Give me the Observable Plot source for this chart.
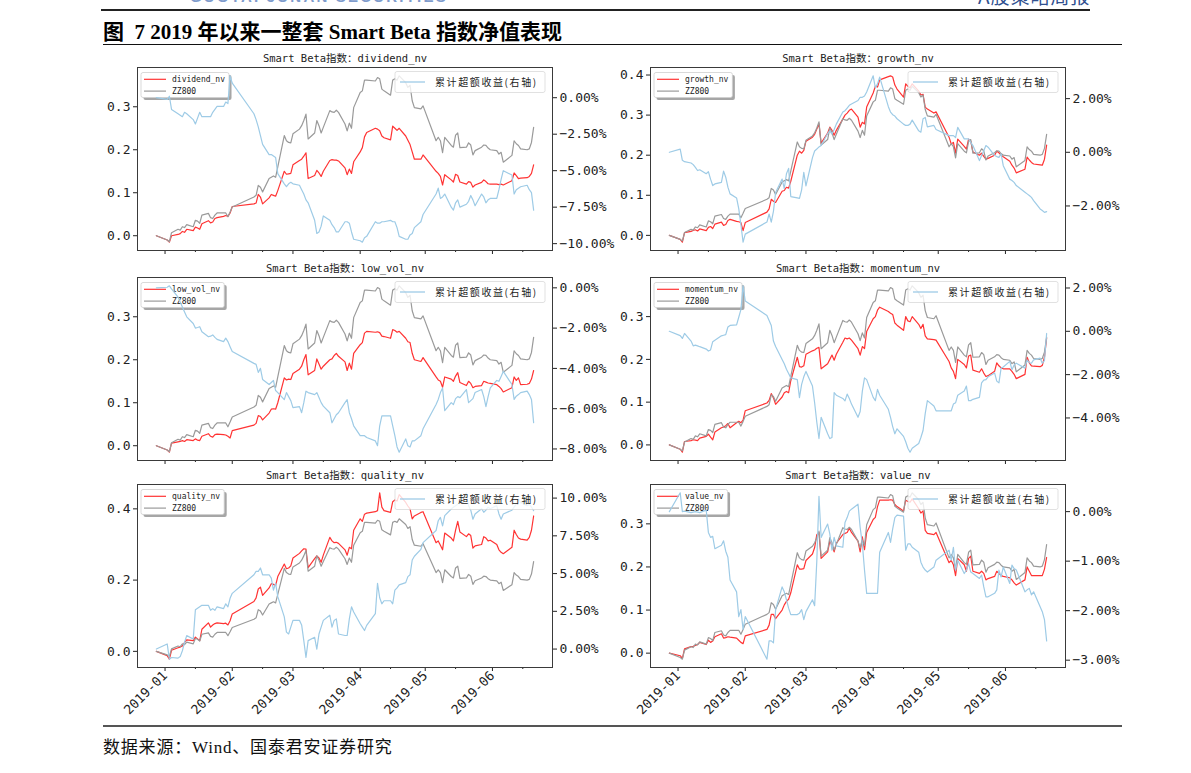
<!DOCTYPE html>
<html>
<head>
<meta charset="utf-8">
<script src="https://cdn.jsdelivr.net/npm/d3@7"></script>
<script src="https://cdn.jsdelivr.net/npm/@observablehq/plot@0.6"></script>
<style>
  html, body { margin: 0; padding: 0; background: #fff; }
  #page { position: relative; width: 1191px; height: 773px; overflow: hidden; background: #fff; }
  .abs { position: absolute; white-space: pre; }
  .logo { left: 190px; top: -12px; font: bold 15px "Liberation Sans", sans-serif; letter-spacing: 2.2px; color: #7f9ccc; }
  .rpt { left: 978px; top: -18px; font: 19px "Noto Sans CJK SC", sans-serif; color: #2f4f8f; letter-spacing: 1px; }
  .rule { position: absolute; }
  .title { left: 103px; top: 15px; font: bold 21px "Liberation Serif", "Noto Sans CJK SC", serif; color: #000; }
  .source { left: 103px; top: 733px; font: 17px "Liberation Serif", "Noto Sans CJK SC", serif; letter-spacing: 0.8px; color: #111; }
  .panel { position: absolute; }
  .panel svg { position: absolute; left: 0; top: 0; overflow: visible; background: none !important; }
</style>
</head>
<body>
<div id="page">
  <div class="abs logo">GUOTAI JUNAN SECURITIES</div>
  <div class="abs rpt">A股策略周报</div>
  <div class="rule" style="left:101px;top:9px;width:989px;height:2px;background:#222"></div>
  <div class="abs title">图  7 2019 年以来一整套 Smart Beta 指数净值表现</div>
  <div class="rule" style="left:103px;top:44px;width:1019px;height:1px;background:#111"></div>
  <div class="rule" style="left:103px;top:725px;width:1019px;height:2px;background:#555"></div>
  <div class="abs source">数据来源：Wind、国泰君安证券研究</div>
</div>
<script>
// Trading days, 2018-12-28 to 2019-06-20
const dates = [
  "2018-12-28",
  "2019-01-02","2019-01-03","2019-01-04","2019-01-07","2019-01-08","2019-01-09","2019-01-10","2019-01-11",
  "2019-01-14","2019-01-15","2019-01-16","2019-01-17","2019-01-18","2019-01-21","2019-01-22","2019-01-23",
  "2019-01-24","2019-01-25","2019-01-28","2019-01-29","2019-01-30","2019-01-31","2019-02-01",
  "2019-02-11","2019-02-12","2019-02-13","2019-02-14","2019-02-15","2019-02-18","2019-02-19","2019-02-20",
  "2019-02-21","2019-02-22","2019-02-25","2019-02-26","2019-02-27","2019-02-28",
  "2019-03-01","2019-03-04","2019-03-05","2019-03-06","2019-03-07","2019-03-08","2019-03-11","2019-03-12",
  "2019-03-13","2019-03-14","2019-03-15","2019-03-18","2019-03-19","2019-03-20","2019-03-21","2019-03-22",
  "2019-03-25","2019-03-26","2019-03-27","2019-03-28","2019-03-29",
  "2019-04-01","2019-04-02","2019-04-03","2019-04-04","2019-04-08","2019-04-09","2019-04-10","2019-04-11",
  "2019-04-12","2019-04-15","2019-04-16","2019-04-17","2019-04-18","2019-04-19","2019-04-22","2019-04-23",
  "2019-04-24","2019-04-25","2019-04-26","2019-04-29","2019-04-30",
  "2019-05-06","2019-05-07","2019-05-08","2019-05-09","2019-05-10","2019-05-13","2019-05-14","2019-05-15",
  "2019-05-16","2019-05-17","2019-05-20","2019-05-21","2019-05-22","2019-05-23","2019-05-24","2019-05-27",
  "2019-05-28","2019-05-29","2019-05-30","2019-05-31",
  "2019-06-03","2019-06-04","2019-06-05","2019-06-06","2019-06-10","2019-06-11","2019-06-12","2019-06-13",
  "2019-06-14","2019-06-17","2019-06-18","2019-06-19","2019-06-20"
];

// Benchmark cumulative return (中证800)
const zz800 = [
  0.000,-0.010,-0.014,0.007,0.015,0.013,0.021,0.019,0.026,0.021,
  0.036,0.034,0.029,0.048,0.052,0.042,0.040,0.048,0.053,0.053,
  0.053,0.044,0.055,0.067,0.090,0.094,0.117,0.113,0.102,0.133,
  0.136,0.139,0.136,0.160,0.233,0.221,0.217,0.216,0.237,0.248,
  0.256,0.268,0.283,0.225,0.239,0.268,0.256,0.239,0.252,0.291,
  0.288,0.287,0.292,0.287,0.260,0.244,0.262,0.250,0.298,0.333,
  0.337,0.362,0.362,0.360,0.368,0.365,0.341,0.337,0.327,0.362,
  0.365,0.362,0.372,0.356,0.345,0.350,0.314,0.298,0.295,0.302,
  0.221,0.229,0.221,0.193,0.229,0.210,0.206,0.234,0.239,0.205,
  0.206,0.216,0.211,0.188,0.198,0.206,0.211,0.210,0.204,0.200,
  0.198,0.190,0.194,0.171,0.187,0.221,0.214,0.210,0.202,0.200,
  0.202,0.217,0.252
];

// Strategy net values (cumulative return)
const dividendNv = [
  0.000,-0.010,-0.015,0.000,0.003,0.005,0.010,0.008,0.015,0.012,
  0.020,0.018,0.015,0.028,0.035,0.030,0.032,0.040,0.042,0.045,
  0.047,0.045,0.053,0.068,0.074,0.076,0.096,0.090,0.074,0.088,
  0.096,0.094,0.092,0.105,0.150,0.143,0.144,0.145,0.165,0.175,
  0.178,0.185,0.193,0.133,0.140,0.152,0.146,0.138,0.150,0.175,
  0.177,0.176,0.176,0.174,0.158,0.142,0.155,0.145,0.172,0.195,
  0.205,0.230,0.240,0.250,0.248,0.244,0.232,0.228,0.223,0.255,
  0.250,0.245,0.250,0.232,0.222,0.212,0.195,0.178,0.178,0.188,
  0.150,0.145,0.138,0.118,0.142,0.130,0.125,0.143,0.140,0.125,
  0.120,0.126,0.124,0.113,0.118,0.124,0.130,0.126,0.121,0.120,
  0.120,0.119,0.120,0.118,0.128,0.146,0.140,0.133,0.134,0.135,
  0.138,0.145,0.165
];
const growthNv = [
  0.000,-0.010,-0.017,0.007,0.010,0.012,0.014,0.011,0.016,0.012,
  0.020,0.022,0.017,0.028,0.033,0.025,0.027,0.037,0.040,0.035,
  0.034,0.032,0.012,0.032,0.058,0.066,0.090,0.085,0.082,0.110,
  0.112,0.120,0.118,0.135,0.200,0.210,0.205,0.212,0.235,0.245,
  0.252,0.265,0.278,0.230,0.255,0.270,0.262,0.250,0.262,0.290,
  0.300,0.305,0.312,0.315,0.295,0.270,0.282,0.278,0.320,0.355,
  0.372,0.370,0.388,0.396,0.398,0.395,0.375,0.365,0.345,0.378,
  0.372,0.368,0.378,0.360,0.350,0.352,0.320,0.315,0.305,0.308,
  0.245,0.228,0.232,0.205,0.240,0.222,0.215,0.240,0.235,0.208,
  0.200,0.205,0.197,0.190,0.192,0.200,0.210,0.206,0.200,0.196,
  0.185,0.175,0.168,0.156,0.165,0.195,0.188,0.182,0.178,0.176,
  0.175,0.190,0.225
];
const lowVolNv = [
  0.000,-0.010,-0.015,0.006,0.009,0.010,0.012,0.010,0.014,0.012,
  0.016,0.013,0.012,0.022,0.028,0.022,0.020,0.026,0.027,0.026,
  0.025,0.022,0.018,0.035,0.048,0.052,0.070,0.068,0.060,0.076,
  0.085,0.086,0.085,0.100,0.158,0.153,0.155,0.154,0.168,0.178,
  0.185,0.200,0.212,0.165,0.175,0.202,0.190,0.178,0.185,0.200,
  0.202,0.210,0.215,0.208,0.195,0.175,0.192,0.178,0.215,0.235,
  0.240,0.262,0.266,0.264,0.265,0.263,0.255,0.254,0.250,0.270,
  0.268,0.264,0.266,0.250,0.242,0.240,0.215,0.200,0.196,0.205,
  0.160,0.153,0.150,0.136,0.160,0.155,0.150,0.162,0.170,0.147,
  0.140,0.150,0.145,0.135,0.138,0.140,0.150,0.148,0.146,0.145,
  0.142,0.138,0.133,0.125,0.135,0.160,0.152,0.158,0.142,0.143,
  0.145,0.155,0.175
];
const momentumNv = [
  0.000,-0.010,-0.017,0.008,0.010,0.012,0.011,0.010,0.016,0.020,
  0.025,0.018,0.012,0.030,0.040,0.042,0.045,0.050,0.040,0.052,
  0.055,0.052,0.058,0.080,0.098,0.104,0.120,0.110,0.095,0.112,
  0.122,0.125,0.122,0.150,0.205,0.183,0.182,0.185,0.212,0.220,
  0.222,0.226,0.228,0.178,0.190,0.200,0.210,0.198,0.212,0.240,
  0.250,0.248,0.250,0.245,0.225,0.210,0.230,0.225,0.265,0.295,
  0.300,0.315,0.322,0.312,0.308,0.305,0.285,0.280,0.268,0.300,
  0.290,0.288,0.300,0.282,0.272,0.282,0.255,0.248,0.246,0.245,
  0.195,0.180,0.172,0.155,0.200,0.188,0.180,0.208,0.210,0.175,
  0.170,0.178,0.168,0.160,0.162,0.172,0.192,0.185,0.180,0.178,
  0.178,0.172,0.165,0.155,0.165,0.205,0.192,0.185,0.184,0.183,
  0.186,0.205,0.250
];
const qualityNv = [
  0.000,-0.012,-0.022,0.003,0.010,0.012,0.015,0.025,0.032,0.030,
  0.040,0.035,0.030,0.062,0.080,0.068,0.074,0.078,0.080,0.078,
  0.079,0.074,0.086,0.105,0.140,0.150,0.175,0.180,0.157,0.178,
  0.190,0.188,0.185,0.210,0.245,0.232,0.234,0.240,0.262,0.275,
  0.282,0.288,0.287,0.235,0.260,0.268,0.262,0.250,0.270,0.320,
  0.310,0.305,0.306,0.303,0.285,0.270,0.292,0.288,0.340,0.372,
  0.365,0.385,0.388,0.392,0.395,0.445,0.405,0.395,0.390,0.420,
  0.425,0.422,0.440,0.418,0.408,0.400,0.372,0.380,0.390,0.392,
  0.305,0.310,0.298,0.285,0.332,0.318,0.310,0.340,0.365,0.335,
  0.322,0.330,0.325,0.290,0.296,0.300,0.322,0.318,0.310,0.312,
  0.300,0.285,0.278,0.274,0.292,0.340,0.328,0.318,0.315,0.312,
  0.320,0.340,0.380
];
const valueNv = [
  0.000,-0.006,-0.012,0.010,0.015,0.016,0.018,0.020,0.025,0.020,
  0.030,0.025,0.028,0.038,0.045,0.035,0.036,0.038,0.037,0.035,
  0.030,0.025,0.022,0.040,0.055,0.065,0.090,0.090,0.080,0.100,
  0.112,0.120,0.125,0.140,0.205,0.195,0.195,0.196,0.215,0.230,
  0.245,0.275,0.280,0.220,0.235,0.260,0.250,0.235,0.255,0.275,
  0.278,0.280,0.290,0.280,0.260,0.235,0.270,0.240,0.280,0.310,
  0.315,0.340,0.355,0.355,0.356,0.355,0.345,0.340,0.330,0.355,
  0.352,0.350,0.358,0.335,0.325,0.330,0.285,0.278,0.275,0.280,
  0.210,0.215,0.205,0.180,0.220,0.205,0.190,0.220,0.225,0.190,
  0.185,0.190,0.185,0.170,0.173,0.178,0.190,0.185,0.180,0.178,
  0.175,0.170,0.163,0.158,0.170,0.200,0.190,0.180,0.180,0.180,
  0.180,0.195,0.222
];

// Cumulative excess return vs benchmark, in percent (right axis)
const dividendExcess = [
  0.00,-0.11,0.10,-0.80,-1.10,-1.20,-1.30,-1.00,-1.10,-1.50,
  -1.80,-1.40,-1.00,-1.30,-1.30,-1.30,-1.00,-0.80,-0.60,-0.60,
  -0.30,-0.40,1.50,1.00,-1.10,-1.50,-2.00,-2.60,-3.20,-3.90,
  -3.90,-4.00,-4.10,-5.20,-5.90,-6.10,-5.90,-5.80,-5.90,-6.00,
  -6.30,-6.60,-7.00,-7.20,-8.40,-9.30,-9.20,-8.80,-8.10,-8.40,
  -8.70,-8.90,-9.20,-9.20,-8.50,-8.50,-8.60,-9.20,-9.70,-9.80,
  -9.90,-9.60,-9.50,-8.50,-8.60,-8.60,-8.50,-8.50,-8.40,-8.50,
  -8.50,-8.90,-9.50,-9.70,-9.70,-9.40,-9.30,-8.90,-8.50,-8.00,
  -6.60,-6.20,-6.90,-6.80,-6.60,-7.50,-7.70,-7.20,-7.00,-7.50,
  -7.30,-7.10,-6.70,-7.00,-7.40,-6.60,-6.80,-7.20,-7.00,-6.90,
  -6.90,-6.30,-5.60,-5.00,-5.30,-6.60,-6.30,-6.20,-6.10,-6.00,
  -6.30,-6.50,-7.70
];
const growthExcess = [
  0.00,0.12,-0.30,-0.35,-0.40,-0.46,-0.56,-0.68,-0.65,-0.80,
  -0.72,-1.00,-1.24,-1.18,-1.12,-0.70,-0.93,-1.30,-1.55,-1.70,
  -2.10,-2.70,-3.35,-3.05,-2.60,-2.30,-2.60,-2.20,-1.50,-1.00,
  -1.35,-0.80,-0.60,-1.65,-1.70,-1.72,-1.40,-0.75,-1.25,-0.20,
  0.05,0.12,0.20,0.25,0.70,0.80,0.68,0.85,1.05,1.50,
  1.55,1.65,1.75,1.80,1.93,2.05,2.05,2.10,2.25,2.85,
  2.40,2.55,2.80,1.70,1.50,1.40,1.35,1.25,1.05,1.00,
  1.00,1.05,1.20,0.80,0.75,1.25,1.30,0.95,1.00,0.85,
  0.62,0.62,0.62,0.55,0.93,0.50,0.50,0.50,0.37,0.25,
  -0.31,-0.12,0.06,0.25,0.19,-0.12,-0.16,-0.19,-0.06,-0.50,
  -1.00,-1.05,-1.12,-1.24,-1.49,-1.55,-1.61,-1.68,-1.80,-2.11,
  -2.17,-2.24,-2.21
];
const lowVolExcess = [
  0.00,0.03,0.10,-0.05,-0.46,-0.70,-0.95,-1.20,-1.44,-1.77,
  -2.00,-1.97,-1.93,-2.18,-2.43,-2.40,-2.34,-2.46,-2.56,-2.67,
  -2.50,-2.67,-2.92,-3.16,-3.75,-3.80,-4.20,-4.00,-4.55,-4.80,
  -4.70,-4.60,-5.10,-5.20,-5.55,-5.20,-5.40,-5.60,-5.95,-5.90,
  -6.20,-5.70,-5.13,-5.20,-5.30,-5.20,-5.45,-5.70,-5.87,-6.20,
  -6.70,-6.50,-6.30,-6.20,-5.70,-5.55,-6.20,-6.50,-6.85,-7.34,
  -7.34,-7.34,-7.43,-7.60,-7.84,-6.85,-6.36,-6.36,-6.36,-6.85,
  -7.34,-7.90,-8.16,-7.50,-7.84,-7.90,-7.60,-7.60,-7.34,-7.00,
  -5.79,-5.54,-5.20,-4.97,-6.10,-5.70,-5.80,-5.50,-5.40,-5.45,
  -5.05,-5.70,-5.60,-5.50,-5.20,-5.05,-5.40,-5.90,-5.40,-4.97,
  -4.60,-4.64,-4.40,-4.15,-4.80,-5.54,-5.38,-5.30,-5.20,-5.13,
  -5.30,-5.54,-6.69
];
const momentumExcess = [
  0.00,-0.20,-0.33,-0.10,-0.45,-0.67,-0.64,-0.67,-0.71,-0.82,
  -0.91,-0.86,-0.48,-0.41,-0.21,-0.18,-0.15,0.20,0.27,0.30,
  0.65,1.00,2.10,1.40,0.73,0.50,0.27,-0.45,-0.70,-1.30,
  -1.50,-1.75,-1.95,-2.15,-2.23,-3.06,-2.45,-2.10,-1.85,-2.53,
  -3.30,-4.20,-4.95,-3.97,-4.73,-4.95,-4.90,-2.83,-2.95,-3.10,
  -3.21,-2.90,-3.10,-3.36,-3.97,-3.70,-2.76,-2.15,-2.23,-3.05,
  -3.20,-2.68,-2.95,-3.60,-3.97,-4.40,-4.73,-4.50,-4.85,-5.10,
  -5.40,-5.58,-5.40,-5.18,-4.90,-4.58,-3.80,-3.20,-3.45,-3.67,
  -3.67,-3.67,-3.36,-3.30,-2.95,-2.76,-2.53,-3.20,-3.20,-3.14,
  -3.05,-2.38,-2.25,-2.23,-2.10,-1.92,-2.30,-2.38,-1.70,-1.65,
  -1.39,-1.77,-1.55,-1.47,-1.70,-1.32,-1.45,-1.47,-1.32,-1.24,
  -1.47,-1.35,-0.10
];
const qualityExcess = [
  0.00,0.34,-0.67,-0.56,-0.60,-0.50,-0.11,0.45,0.89,0.67,
  2.60,2.70,2.80,2.90,2.90,2.57,2.68,2.57,2.80,2.68,
  3.00,2.80,3.36,3.69,4.92,5.15,5.15,5.37,4.92,4.92,
  4.70,3.90,4.36,3.47,2.13,1.12,1.00,1.45,1.90,1.90,
  1.60,0.56,-0.56,0.56,0.78,0.00,1.00,1.45,1.90,2.24,
  1.45,1.90,2.00,1.00,0.90,0.90,2.00,2.80,2.46,1.68,
  1.45,1.23,1.57,2.35,4.36,3.40,3.00,3.20,3.20,3.00,
  3.90,4.05,4.25,4.40,4.80,4.92,5.90,6.15,6.60,7.05,
  7.85,8.50,8.72,8.16,8.84,9.28,9.40,9.50,9.60,9.73,
  10.35,9.50,9.20,8.60,8.95,9.30,9.06,9.20,9.40,9.30,
  9.50,8.95,8.60,8.95,9.20,9.40,9.60,9.95,9.70,9.50,
  9.60,9.40,9.17
];
const valueExcess = [
  0.00,0.38,0.00,0.01,-0.02,-0.01,0.00,-0.01,-0.02,0.03,
  -0.42,-0.52,-0.50,-0.75,-0.68,-0.59,-0.80,-0.92,-1.38,-1.62,
  -2.12,-1.98,-2.38,-2.12,-2.98,-2.61,-2.61,-2.65,-1.98,-1.52,
  -1.62,-1.78,-1.95,-2.08,-2.08,-2.05,-1.98,-2.18,-2.02,-1.78,
  -1.90,-1.00,0.31,-0.52,-0.25,-0.45,-0.78,-0.52,-0.69,-0.72,
  -0.22,-0.12,0.01,0.05,0.15,-0.32,-0.65,-1.18,-1.65,-1.65,
  -1.65,-1.65,-0.82,-0.42,-0.62,-0.35,-0.12,-0.07,-0.09,-0.78,
  -0.65,-0.65,-0.72,-0.82,-1.02,-1.12,-1.18,-1.22,-1.12,-0.98,
  -0.78,-0.98,-0.72,-1.18,-0.98,-1.25,-1.18,-1.05,-1.22,-1.25,
  -1.35,-1.28,-1.52,-1.72,-1.72,-1.65,-1.58,-1.18,-1.32,-1.12,
  -1.45,-1.08,-1.15,-1.18,-1.62,-1.58,-1.55,-1.68,-1.62,-1.92,
  -2.02,-2.18,-2.61
];

// Axis ticks
const monthTicks = ["2019-01-01","2019-02-01","2019-03-01","2019-04-01","2019-05-01","2019-06-01"];
const midMonthTicks = ["2019-01-15","2019-02-15","2019-03-15","2019-04-15","2019-05-15","2019-06-15"];
const dividendLeftTicks = [0, 0.1, 0.2, 0.3];
const dividendRightTicks = [0, -2.5, -5, -7.5, -10];
const growthLeftTicks = [0, 0.1, 0.2, 0.3, 0.4];
const growthRightTicks = [2, 0, -2];
const lowVolLeftTicks = [0, 0.1, 0.2, 0.3];
const lowVolRightTicks = [0, -2, -4, -6, -8];
const momentumLeftTicks = [0, 0.1, 0.2, 0.3];
const momentumRightTicks = [2, 0, -2, -4];
const qualityLeftTicks = [0, 0.2, 0.4];
const qualityRightTicks = [0, 2.5, 5, 7.5, 10];
const valueLeftTicks = [0, 0.1, 0.2, 0.3];
const valueRightTicks = [0, -1, -2, -3];

const benchLabel = "ZZ800";
const excessLabel = "累计超额收益(右轴)";
const titlePrefix = "Smart Beta指数：";

const panels = [
  {name: "dividend_nv", nv: dividendNv, ex: dividendExcess, lt: dividendLeftTicks, rt: dividendRightTicks, col: 0, row: 0},
  {name: "growth_nv", nv: growthNv, ex: growthExcess, lt: growthLeftTicks, rt: growthRightTicks, col: 1, row: 0},
  {name: "low_vol_nv", nv: lowVolNv, ex: lowVolExcess, lt: lowVolLeftTicks, rt: lowVolRightTicks, col: 0, row: 1},
  {name: "momentum_nv", nv: momentumNv, ex: momentumExcess, lt: momentumLeftTicks, rt: momentumRightTicks, col: 1, row: 1},
  {name: "quality_nv", nv: qualityNv, ex: qualityExcess, lt: qualityLeftTicks, rt: qualityRightTicks, col: 0, row: 2},
  {name: "value_nv", nv: valueNv, ex: valueExcess, lt: valueLeftTicks, rt: valueRightTicks, col: 1, row: 2}
];

// Styling and layout
const RED = "#ff3333", GRAY = "#9a9a9a", BLUE = "#9ecbe6", INK = "#222";
const MONO = '"DejaVu Sans Mono", "Noto Sans CJK SC", monospace';
const CJK = '"Noto Sans CJK SC", sans-serif';
const colLeft = [137, 650], rowTop = [66.5, 276.5, 483.5];
const FW = 415, FH = 183, ML = 50, MR = 75, MT = 26;

const parse = d3.utcParse("%Y-%m-%d");
const D = dates.map(parse);
const pad = ([a, b], f = 0.05) => { const s = (b - a) * f; return [a - s, b + s]; };
const xDomain = pad(d3.extent(D, d => +d)).map(t => new Date(t));
const majorX = monthTicks.map(parse), minorX = midMonthTicks.map(parse);
const fmtLeft = v => v.toFixed(1);
const fmtRight = v => (v < 0 ? "\u2212" : "") + Math.abs(v).toFixed(2) + "%";

function leftLegend(label) {
  return (index, scales, values, dim) => {
    const x0 = dim.marginLeft + 4, y0 = dim.marginTop + 5.5;
    const w = 35 + label.length * 4.82, h = 25;
    const g = d3.create("svg:g").attr("text-anchor", "start");
    g.append("rect").attr("x", x0 + 2.5).attr("y", y0 + 2.5).attr("width", w).attr("height", h)
      .attr("rx", 2).attr("fill", "#4d4d4d").attr("fill-opacity", 0.5);
    g.append("rect").attr("x", x0).attr("y", y0).attr("width", w).attr("height", h)
      .attr("rx", 2).attr("fill", "#fff").attr("stroke", "#cfcfcf").attr("stroke-width", 0.8);
    [[label, RED, 6.8], [benchLabel, GRAY, 18.6]].forEach(([t, c, dy]) => {
      g.append("line").attr("x1", x0 + 3).attr("x2", x0 + 25).attr("y1", y0 + dy).attr("y2", y0 + dy)
        .attr("stroke", c).attr("stroke-width", 1.2);
      g.append("text").attr("x", x0 + 31).attr("y", y0 + dy).attr("dy", "0.35em")
        .attr("text-anchor", "start")
        .attr("font-family", MONO).attr("font-size", 8).attr("fill", INK).text(t);
    });
    return g.node();
  };
}

function rightLegend() {
  return (index, scales, values, dim) => {
    const w = 150, h = 21;
    const x0 = dim.width - dim.marginRight - 7 - w, y0 = dim.marginTop + 4.5;
    const g = d3.create("svg:g").attr("text-anchor", "start");
    g.append("rect").attr("x", x0).attr("y", y0).attr("width", w).attr("height", h)
      .attr("rx", 2).attr("fill", "#fff").attr("fill-opacity", 0.8)
      .attr("stroke", "#cfcfcf").attr("stroke-opacity", 0.8).attr("stroke-width", 0.8);
    g.append("line").attr("x1", x0 + 5).attr("x2", x0 + 30).attr("y1", y0 + h / 2).attr("y2", y0 + h / 2)
      .attr("stroke", BLUE).attr("stroke-width", 1.3);
    g.append("text").attr("x", x0 + 40).attr("y", y0 + h / 2).attr("dy", "0.36em")
      .attr("text-anchor", "start")
      .attr("font-family", CJK).attr("font-size", 10).attr("letter-spacing", 1.6)
      .attr("fill", INK).text(excessLabel);
    return g.node();
  };
}

const page = document.getElementById("page");

panels.forEach(p => {
  const bottomRow = p.row === 2;
  const MB = bottomRow ? 62 : 14;
  const rows = D.map((d, i) => ({date: d, nv: p.nv[i], zz: zz800[i], ex: p.ex[i]}));
  const leftDomain = pad(d3.extent(rows.flatMap(r => [r.nv, r.zz])));
  const rightDomain = pad(d3.extent(rows, r => r.ex));
  const common = {
    width: ML + FW + MR, height: MT + FH + MB,
    marginLeft: ML, marginRight: MR, marginTop: MT, marginBottom: MB,
    style: {background: "none", fontFamily: MONO, fontSize: "13px", color: INK, overflow: "visible"}
  };

  // Net value layer (left axis)
  const left = Plot.plot({
    ...common,
    x: {type: "utc", domain: xDomain, axis: null},
    y: {domain: leftDomain},
    marks: [
      Plot.line(rows, {x: "date", y: "nv", stroke: RED, strokeWidth: 1.2}),
      Plot.line(rows, {x: "date", y: "zz", stroke: GRAY, strokeWidth: 1.2}),
      Plot.axisY(p.lt, {anchor: "left", tickSize: 4, tickPadding: 3, tickFormat: fmtLeft, label: null}),
      Plot.text([titlePrefix + p.name], {frameAnchor: "top", dy: -6, lineAnchor: "bottom",
        fontSize: 10.5, fill: INK}),
      leftLegend(p.name)
    ]
  });

  // Excess return layer (right axis)
  const right = Plot.plot({
    ...common,
    x: {type: "utc", domain: xDomain},
    y: {domain: rightDomain},
    marks: [
      Plot.line(rows, {x: "date", y: "ex", stroke: BLUE, strokeWidth: 1.2}),
      Plot.axisY(p.rt, {anchor: "right", tickSize: 4, tickPadding: 3, tickFormat: fmtRight, label: null}),
      Plot.axisX(minorX, {anchor: "bottom", tickSize: 2, tickFormat: () => "", label: null}),
      bottomRow
        ? Plot.axisX(majorX, {anchor: "bottom", tickSize: 4, tickPadding: 2, tickRotate: -45,
            tickFormat: d3.utcFormat("%Y-%m"), label: null, fontSize: 13})
        : Plot.axisX(majorX, {anchor: "bottom", tickSize: 4, tickFormat: () => "", label: null}),
      rightLegend(),
      Plot.frame({stroke: "#3a3a3a", strokeWidth: 1})
    ]
  });

  const box = document.createElement("div");
  box.className = "panel";
  box.style.left = (colLeft[p.col] - ML) + "px";
  box.style.top = (rowTop[p.row] - MT) + "px";
  box.style.width = (ML + FW + MR) + "px";
  box.style.height = (MT + FH + MB) + "px";
  box.appendChild(left);
  box.appendChild(right);
  page.appendChild(box);
});
</script>
</body>
</html>
